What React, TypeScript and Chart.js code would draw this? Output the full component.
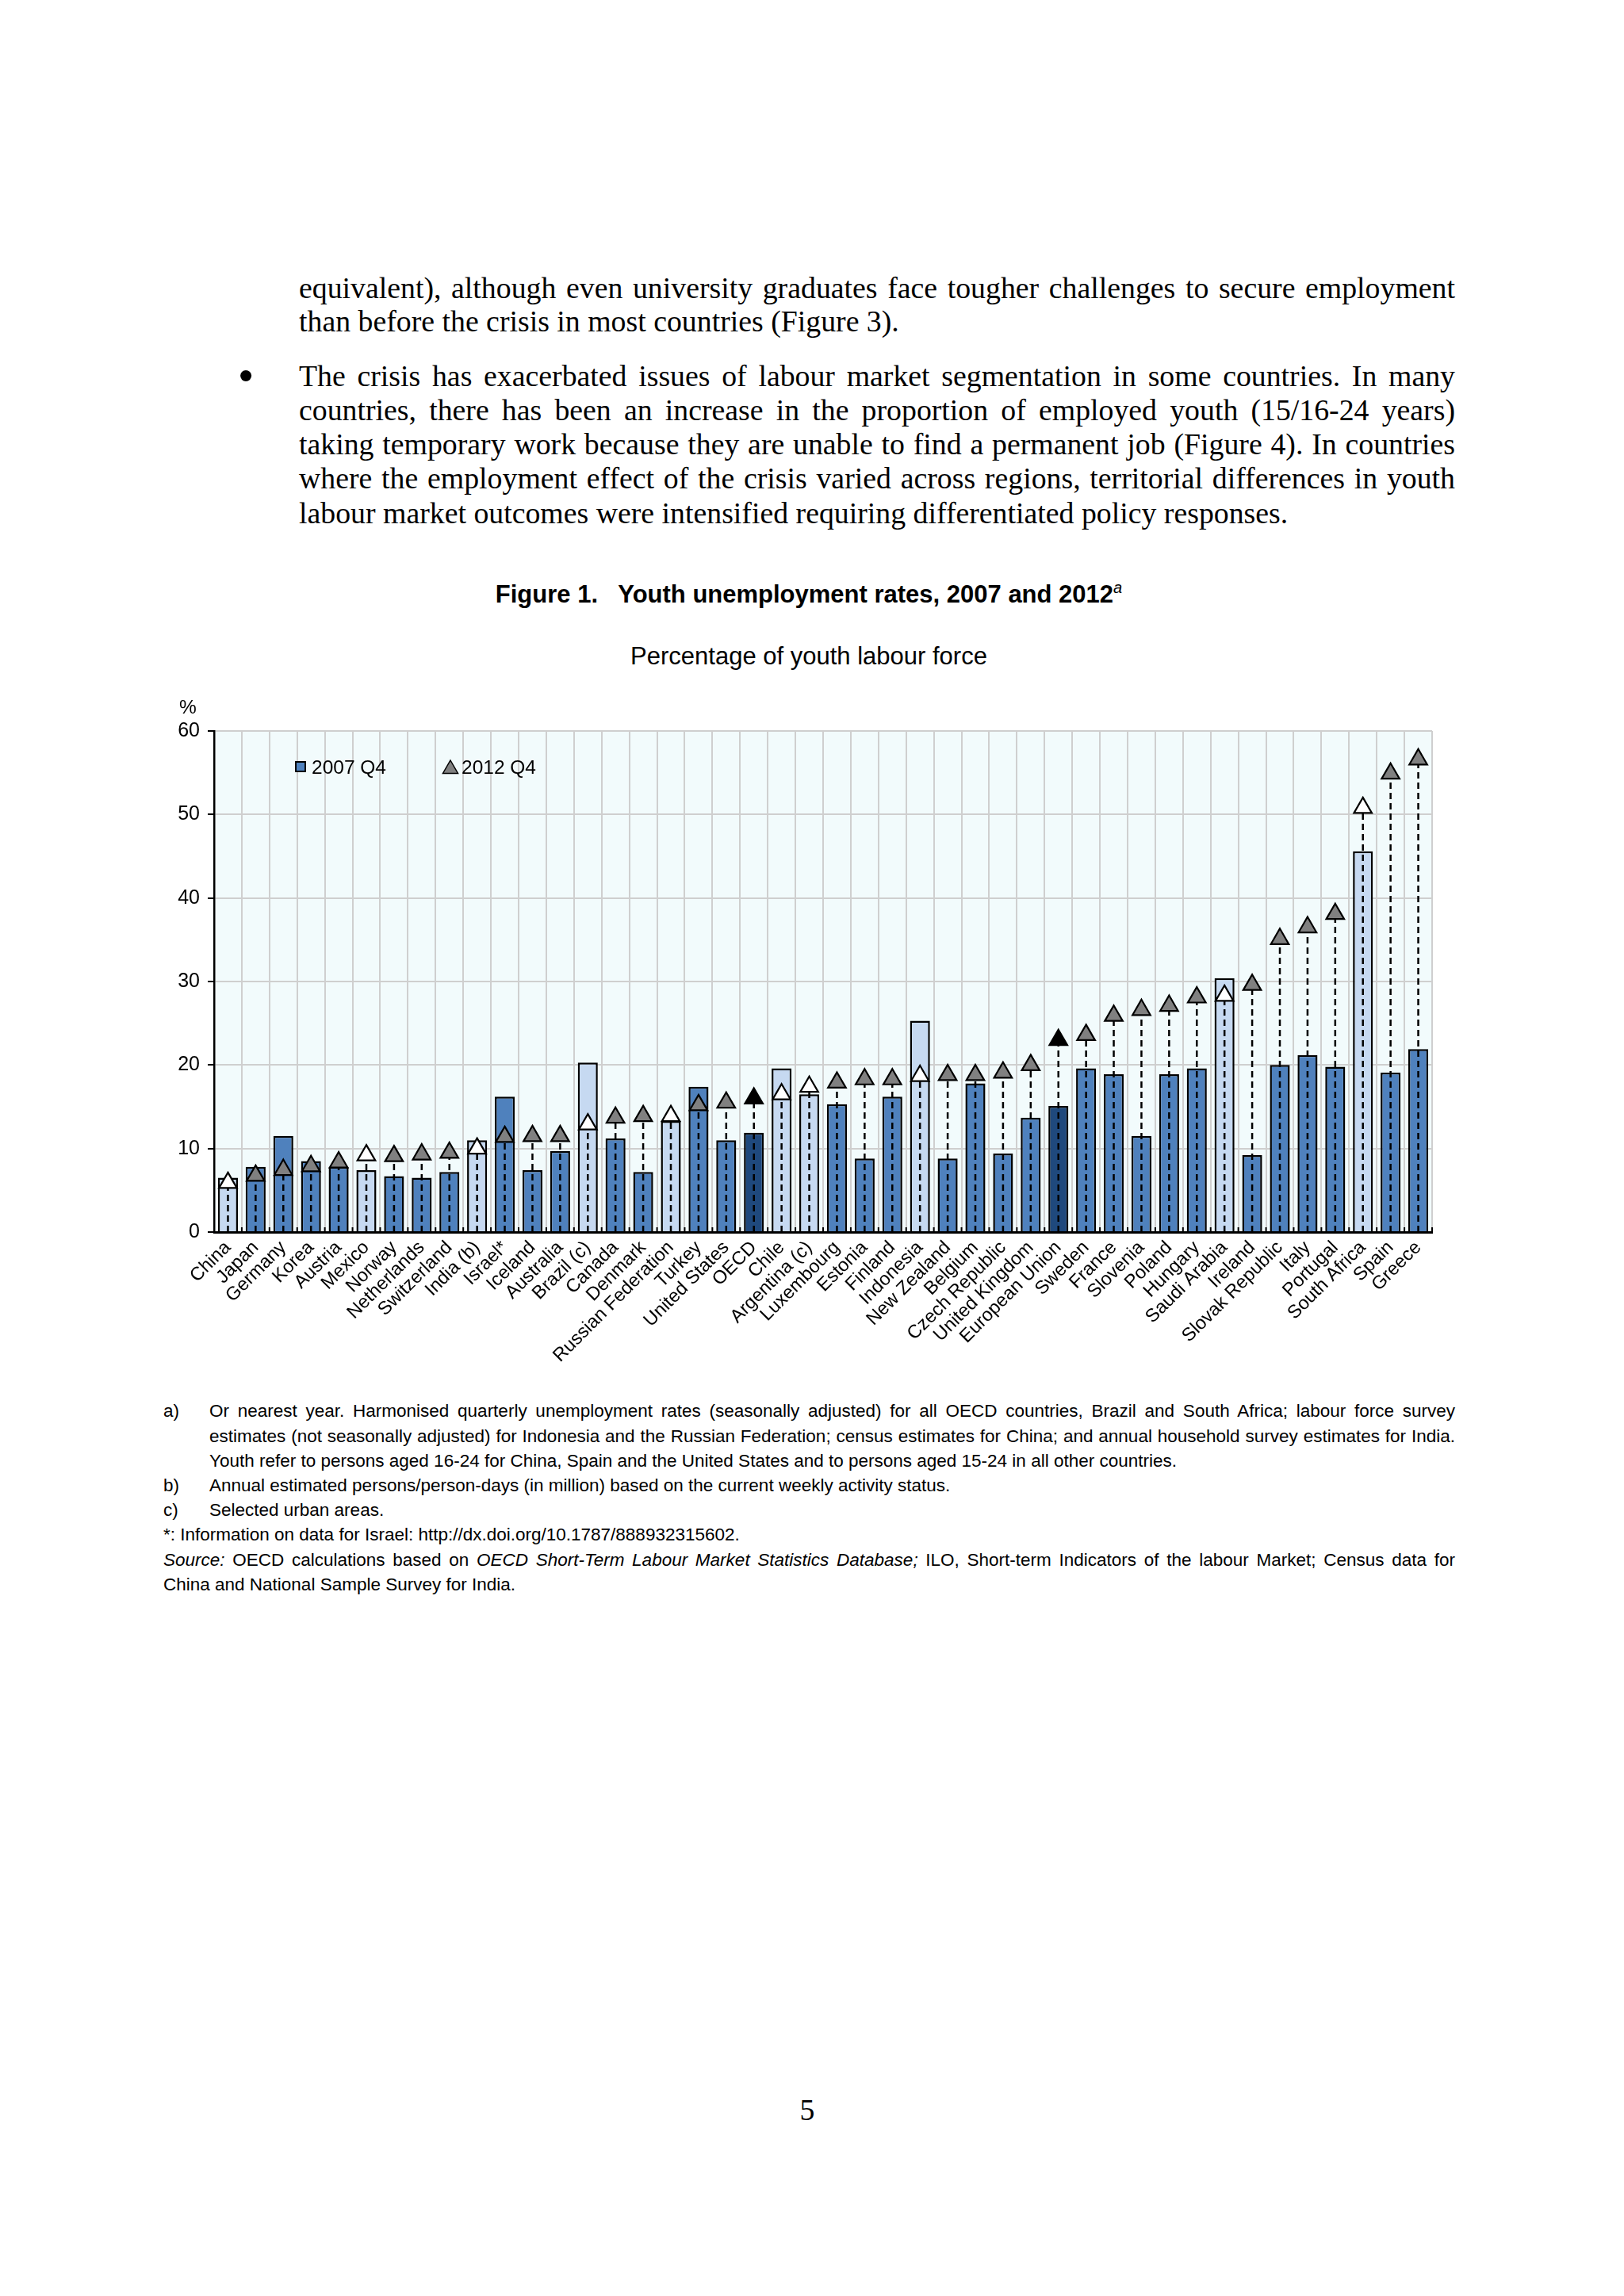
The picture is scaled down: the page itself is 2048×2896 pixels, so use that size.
import React, { useEffect, useRef } from 'react';
import { Chart, registerables } from 'chart.js';

Chart.register(...registerables);

// ---------- DATA ----------
const categories = [
  'China', 'Japan', 'Germany', 'Korea', 'Austria', 'Mexico', 'Norway', 'Netherlands', 'Switzerland', 'India (b)',
  'Israel*', 'Iceland', 'Australia', 'Brazil (c)', 'Canada', 'Denmark', 'Russian Federation', 'Turkey', 'United States', 'OECD',
  'Chile', 'Argentina (c)', 'Luxembourg', 'Estonia', 'Finland', 'Indonesia', 'New Zealand', 'Belgium', 'Czech Republic', 'United Kingdom',
  'European Union', 'Sweden', 'France', 'Slovenia', 'Poland', 'Hungary', 'Saudi Arabia', 'Ireland', 'Slovak Republic', 'Italy',
  'Portugal', 'South Africa', 'Spain', 'Greece',
];

const rate2007 = [
  6.5, 7.8, 11.5, 8.5, 7.8, 7.4, 6.7, 6.5, 7.2, 11.0,
  16.2, 7.4, 9.7, 20.3, 11.2, 7.2, 13.3, 17.4, 11.0, 11.9,
  19.6, 16.5, 15.3, 8.8, 16.2, 25.3, 8.8, 17.8, 9.4, 13.7,
  15.1, 19.6, 18.9, 11.5, 18.9, 19.6, 30.4, 9.2, 20.0, 21.2,
  19.8, 45.6, 19.1, 21.9,
];

const rate2012 = [
  5.9, 6.75, 7.45, 7.9, 8.35, 9.2, 9.1, 9.3, 9.5, 10.0,
  11.4, 11.5, 11.5, 12.9, 13.7, 13.9, 13.9, 15.2, 15.5, 16.0,
  16.5, 17.4, 17.9, 18.3, 18.3, 18.7, 18.8, 18.8, 19.1, 20.0,
  23.0, 23.6, 25.9, 26.6, 27.1, 28.1, 28.3, 29.6, 35.1, 36.5,
  38.1, 50.8, 54.9, 56.6,
];

// n = OECD country, l = non-member / other source, d = aggregate
const groups = [
  'l', 'n', 'n', 'n', 'n', 'l', 'n', 'n', 'n', 'l',
  'n', 'n', 'n', 'l', 'n', 'n', 'l', 'n', 'n', 'd',
  'l', 'l', 'n', 'n', 'n', 'l', 'n', 'n', 'n', 'n',
  'd', 'n', 'n', 'n', 'n', 'n', 'l', 'n', 'n', 'n',
  'n', 'l', 'n', 'n',
];

const seriesLabels = ['2007 Q4', '2012 Q4'];
const yTicks = [0, 10, 20, 30, 40, 50, 60];

// ---------- STYLE ----------
const SANS = '"Liberation Sans", Arial, sans-serif';
const SERIF = '"Liberation Serif", "Times New Roman", serif';
const BAR_COL: Record<string, string> = { n: '#4F81BD', l: '#C6D9F1', d: '#1F497D' };
const TRI_COL: Record<string, string> = { n: '#808080', l: '#FFFFFF', d: '#000000' };
const PLOT_BG = '#F2FBFC';
const GRID = '#CFCFCF';

const decor = {
  id: 'decor',
  beforeDraw(chart: any) {
    const { ctx, chartArea: a } = chart;
    ctx.save();
    ctx.fillStyle = PLOT_BG;
    ctx.fillRect(a.left, a.top, a.right - a.left, a.bottom - a.top);
    ctx.restore();
  },
  afterDatasetDraw(chart: any, args: any) {
    if (args.index !== 0) return;
    const { ctx } = chart;
    const xs = chart.scales.x;
    const ys = chart.scales.y;
    const vals = chart.data.datasets[1].data as number[];
    ctx.save();
    ctx.strokeStyle = '#000';
    ctx.lineWidth = 2.5;
    ctx.setLineDash([8, 5]);
    vals.forEach((v, i) => {
      const px = xs.getPixelForValue(i);
      ctx.beginPath();
      ctx.moveTo(px, ys.getPixelForValue(0));
      ctx.lineTo(px, ys.getPixelForValue(v));
      ctx.stroke();
    });
    ctx.setLineDash([]);
    ctx.lineWidth = 2;
    const y0 = ys.getPixelForValue(0);
    for (let i = 0; i <= vals.length; i++) {
      const bx = xs.getPixelForValue(i - 0.5);
      ctx.beginPath();
      ctx.moveTo(bx, y0);
      ctx.lineTo(bx, y0 - 6);
      ctx.stroke();
    }
    ctx.restore();
  },
  afterDraw(chart: any) {
    const { ctx, chartArea: a } = chart;
    ctx.save();
    ctx.fillStyle = '#000';
    ctx.font = `24.5px ${SANS}`;
    ctx.textBaseline = 'alphabetic';
    ctx.textAlign = 'center';
    ctx.fillText('%', a.left - 33, a.top - 22);
    // legend
    const base = a.top + 54;
    ctx.fillStyle = BAR_COL.n;
    ctx.fillRect(a.left + 103, a.top + 39, 12, 12);
    ctx.strokeStyle = '#000';
    ctx.lineWidth = 2;
    ctx.strokeRect(a.left + 103, a.top + 39, 12, 12);
    ctx.fillStyle = '#000';
    ctx.textAlign = 'left';
    ctx.fillText(chart.data.datasets[0].label, a.left + 123, base);
    const cx = a.left + 298;
    const cy = a.top + 48;
    const r = 11;
    ctx.beginPath();
    ctx.moveTo(cx, cy - r);
    ctx.lineTo(cx + r * 0.866, cy + r / 2);
    ctx.lineTo(cx - r * 0.866, cy + r / 2);
    ctx.closePath();
    ctx.fillStyle = TRI_COL.n;
    ctx.fill();
    ctx.lineWidth = 1.5;
    ctx.stroke();
    ctx.fillStyle = '#000';
    ctx.fillText(chart.data.datasets[1].label, a.left + 312, base);
    ctx.restore();
  },
};

function ChartBox() {
  const ref = useRef<HTMLCanvasElement | null>(null);
  useEffect(() => {
    if (!ref.current) return;
    const chart = new Chart(ref.current, {
      type: 'bar',
      data: {
        labels: categories,
        datasets: [
          {
            type: 'bar',
            label: seriesLabels[0],
            data: rate2007,
            backgroundColor: groups.map((g) => BAR_COL[g]),
            borderColor: '#000',
            borderWidth: 2.5,
            barPercentage: 0.72,
            categoryPercentage: 1,
            order: 2,
          } as any,
          {
            type: 'line',
            label: seriesLabels[1],
            data: rate2012,
            showLine: false,
            pointStyle: 'triangle',
            pointRadius: 13,
            pointHoverRadius: 13,
            pointBorderWidth: 2.2,
            pointBorderColor: '#000',
            pointBackgroundColor: groups.map((g) => TRI_COL[g]),
            order: 1,
          } as any,
        ],
      },
      options: {
        responsive: false,
        maintainAspectRatio: false,
        animation: false,
        layout: { padding: { left: 0, right: 242, top: 62, bottom: 0 } },
        plugins: { legend: { display: false }, tooltip: { enabled: false } },
        scales: {
          x: {
            grid: { offset: true, color: GRID, lineWidth: 2, drawTicks: false },
            border: { display: true, color: '#000', width: 3 },
            ticks: {
              autoSkip: false,
              maxRotation: 45,
              minRotation: 45,
              color: '#000',
              padding: 6,
              font: { family: SANS, size: 23.5 },
            },
            afterFit: (s: any) => {
              s.height = 186;
            },
          },
          y: {
            min: 0,
            max: 60,
            grid: { color: GRID, lineWidth: 2, tickColor: '#000', tickLength: 8 },
            border: { display: true, color: '#000', width: 2.5 },
            ticks: { color: '#000', padding: 10, font: { family: SANS, size: 25 } },
            afterBuildTicks: (s: any) => {
              s.ticks = yTicks.map((v) => ({ value: v }));
            },
            afterFit: (s: any) => {
              s.width = 270;
            },
          },
        },
      } as any,
      plugins: [decor as any],
    });
    return () => chart.destroy();
  }, []);
  return (
    <canvas
      ref={ref}
      width={2048}
      height={880}
      style={{ position: 'absolute', left: 0, top: 860, width: 2048, height: 880 }}
    />
  );
}

type LineProps = {
  center: number;
  left: number;
  width: number;
  lh: number;
  size: number;
  family: string;
  justify?: boolean;
  children: React.ReactNode;
};

function TextLine({ center, left, width, lh, size, family, justify, children }: LineProps) {
  return (
    <div
      style={{
        position: 'absolute',
        top: center - lh / 2,
        left,
        width,
        lineHeight: `${lh}px`,
        fontSize: size,
        fontFamily: family,
        color: '#000',
        textAlign: justify ? 'justify' : 'left',
        textAlignLast: justify ? 'justify' : 'auto',
        whiteSpace: justify ? 'normal' : 'nowrap',
      } as React.CSSProperties}
    >
      {children}
    </div>
  );
}

const bodyLines = [
  { c: 364, j: true, t: 'equivalent), although even university graduates face tougher challenges to secure employment' },
  { c: 406, j: false, t: 'than before the crisis in most countries (Figure 3).' },
  { c: 475, j: true, t: 'The crisis has exacerbated issues of labour market segmentation in some countries. In many' },
  { c: 518, j: true, t: 'countries, there has been an increase in the proportion of employed youth (15/16-24 years)' },
  { c: 561, j: true, t: 'taking temporary work because they are unable to find a permanent job (Figure 4). In countries' },
  { c: 604, j: true, t: 'where the employment effect of the crisis varied across regions, territorial differences in youth' },
  { c: 648, j: false, t: 'labour market outcomes were intensified requiring differentiated policy responses.' },
];

export default function App() {
  const fnLH = 31.2;
  const fnSize = 22.5;
  const fnC = (k: number) => 1780 + k * 31.2;
  return (
    <div
      style={{
        position: 'absolute',
        left: 0,
        top: 0,
        width: 2048,
        height: 2896,
        background: '#fff',
        overflow: 'hidden',
      }}
    >
      {bodyLines.map((l, i) => (
        <TextLine key={i} center={l.c} left={377} width={1458} lh={43.4} size={37.8} family={SERIF} justify={l.j}>
          {l.t}
        </TextLine>
      ))}
      <TextLine center={474} left={301} width={40} lh={43.4} size={52} family={SANS}>
        •
      </TextLine>

      <div
        style={{
          position: 'absolute',
          top: 750 - 20,
          left: 205,
          width: 1630,
          textAlign: 'center',
          lineHeight: '40px',
          fontFamily: SANS,
          fontWeight: 'bold',
          fontSize: 31,
          whiteSpace: 'pre',
        }}
      >
        {'Figure 1.   Youth unemployment rates, 2007 and 2012'}
        <span style={{ fontSize: 20, fontStyle: 'italic', fontWeight: 'normal', position: 'relative', top: -12 }}>a</span>
      </div>
      <div
        style={{
          position: 'absolute',
          top: 828 - 20,
          left: 205,
          width: 1630,
          textAlign: 'center',
          lineHeight: '40px',
          fontFamily: SANS,
          fontSize: 31,
        }}
      >
        Percentage of youth labour force
      </div>

      <ChartBox />

      <TextLine center={fnC(0)} left={206} width={50} lh={fnLH} size={fnSize} family={SANS}>a)</TextLine>
      <TextLine center={fnC(0)} left={264} width={1571} lh={fnLH} size={fnSize} family={SANS} justify>
        Or nearest year. Harmonised quarterly unemployment rates (seasonally adjusted) for all OECD countries, Brazil and South Africa; labour force survey
      </TextLine>
      <TextLine center={fnC(1)} left={264} width={1571} lh={fnLH} size={fnSize} family={SANS} justify>
        estimates (not seasonally adjusted) for Indonesia and the Russian Federation; census estimates for China; and annual household survey estimates for India.
      </TextLine>
      <TextLine center={fnC(2)} left={264} width={1571} lh={fnLH} size={fnSize} family={SANS}>
        Youth refer to persons aged 16-24 for China, Spain and the United States and to persons aged 15-24 in all other countries.
      </TextLine>
      <TextLine center={fnC(3)} left={206} width={50} lh={fnLH} size={fnSize} family={SANS}>b)</TextLine>
      <TextLine center={fnC(3)} left={264} width={1571} lh={fnLH} size={fnSize} family={SANS}>
        Annual estimated persons/person-days (in million) based on the current weekly activity status.
      </TextLine>
      <TextLine center={fnC(4)} left={206} width={50} lh={fnLH} size={fnSize} family={SANS}>c)</TextLine>
      <TextLine center={fnC(4)} left={264} width={1571} lh={fnLH} size={fnSize} family={SANS}>
        Selected urban areas.
      </TextLine>
      <TextLine center={fnC(5)} left={206} width={1629} lh={fnLH} size={fnSize} family={SANS}>
        *: Information on data for Israel: http://dx.doi.org/10.1787/888932315602.
      </TextLine>
      <TextLine center={fnC(6)} left={206} width={1629} lh={fnLH} size={fnSize} family={SANS} justify>
        <i>Source:</i> OECD calculations based on <i>OECD Short-Term Labour Market Statistics Database;</i> ILO, Short-term Indicators of the labour Market; Census data for
      </TextLine>
      <TextLine center={fnC(7)} left={206} width={1629} lh={fnLH} size={fnSize} family={SANS}>
        China and National Sample Survey for India.
      </TextLine>

      <div
        style={{
          position: 'absolute',
          top: 2661 - 22,
          left: 978,
          width: 80,
          textAlign: 'center',
          lineHeight: '44px',
          fontFamily: SERIF,
          fontSize: 37.8,
        }}
      >
        5
      </div>
    </div>
  );
}
